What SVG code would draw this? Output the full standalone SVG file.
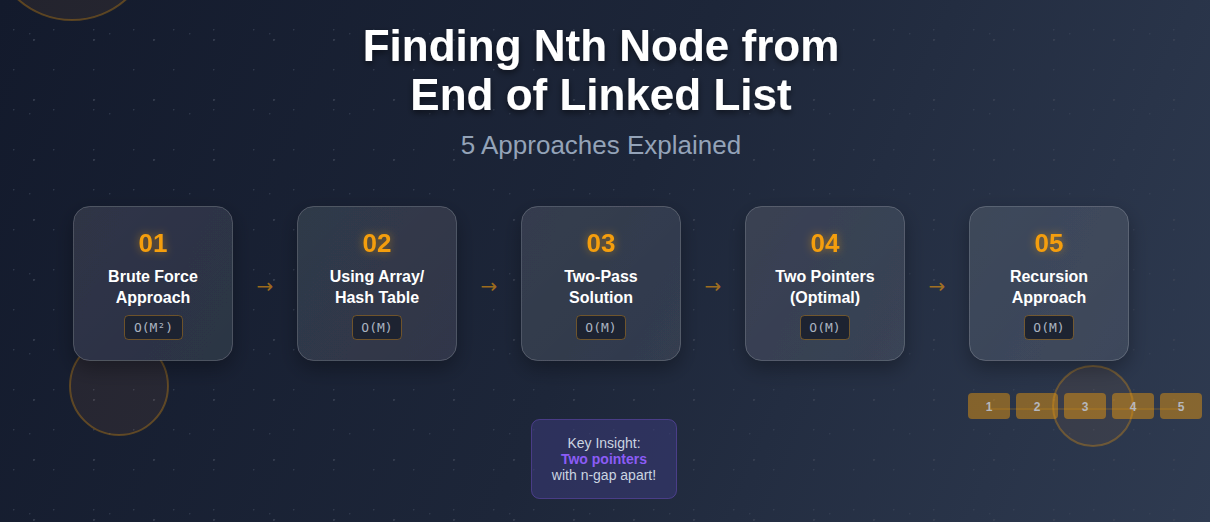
<svg xmlns="http://www.w3.org/2000/svg" width="1210" height="522" viewBox="0 0 1210 522">
<defs>
<linearGradient id="bg" gradientUnits="userSpaceOnUse" x1="0" y1="0" x2="1210" y2="522">
<stop offset="0" stop-color="#131a2c"/>
<stop offset="0.5" stop-color="#1d2639"/>
<stop offset="1" stop-color="#2f3b51"/>
</linearGradient>
<linearGradient id="card" x1="0" y1="0" x2="1" y2="1">
<stop offset="0" stop-color="#ffffff" stop-opacity="0.11"/>
<stop offset="1" stop-color="#ffffff" stop-opacity="0.09"/>
</linearGradient>
<pattern id="p1" x="13" y="29" width="40" height="40" patternUnits="userSpaceOnUse">
<circle cx="0.5" cy="0.5" r="1" fill="#3a4458" opacity="0.7"/>
</pattern>
<pattern id="p2" x="33" y="39" width="60" height="60" patternUnits="userSpaceOnUse">
<circle cx="0.5" cy="0.5" r="1.6" fill="#3b4254" opacity="0.8"/>
</pattern>
<pattern id="p3" x="29" y="33" width="80" height="80" patternUnits="userSpaceOnUse">
<circle cx="0.5" cy="0.5" r="1" fill="#3a4458" opacity="0.6"/>
</pattern>
<filter id="shadow" x="-30%" y="-30%" width="160%" height="160%">
<feDropShadow dx="0" dy="8" stdDeviation="10" flood-color="#000" flood-opacity="0.3"/>
</filter>
<filter id="tshadow" x="-10%" y="-30%" width="120%" height="160%">
<feDropShadow dx="0" dy="3" stdDeviation="3" flood-color="#000" flood-opacity="0.5"/>
</filter>
<filter id="glow" x="-50%" y="-50%" width="200%" height="200%">
<feDropShadow dx="0" dy="0" stdDeviation="4" flood-color="#f59e0b" flood-opacity="0.5"/>
</filter>
<style>
.base{fill:url(#bg)}
.card{fill:url(#card);stroke:#ffffff;stroke-opacity:0.2;stroke-width:1}
.num{font-family:"Liberation Sans",Arial,sans-serif;font-size:26px;font-weight:bold;fill:#f59e0b;text-anchor:middle}
.ttl{font-family:"Liberation Sans",Arial,sans-serif;font-size:16px;font-weight:bold;fill:#ffffff;text-anchor:middle}
.badge{fill:#1d2331;stroke:#f59e0b;stroke-opacity:0.35;stroke-width:1}
.cx{font-family:"DejaVu Sans Mono","Liberation Mono",monospace;font-size:13px;fill:#aab3c0;text-anchor:middle}
.arr{font-family:"DejaVu Sans","Liberation Sans",sans-serif;font-size:20px;fill:#f59e0b;fill-opacity:0.6;text-anchor:middle}
.deco{fill:#ffa040;fill-opacity:0.07;stroke:#f59e0b;stroke-opacity:0.3;stroke-width:2}
.ll{fill:#f59e0b;fill-opacity:0.45}
.llt{font-family:"Liberation Sans",Arial,sans-serif;font-size:12px;font-weight:bold;fill:#b5b7bd;text-anchor:middle}
</style>
</defs>
<rect width="1210" height="522" fill="url(#bg)"/>
<rect width="1210" height="522" fill="url(#p1)"/>
<rect width="1210" height="522" fill="url(#p2)"/>
<rect width="1210" height="522" fill="url(#p3)"/>

<g id="decor">
<circle class="deco" cx="72" cy="-61" r="81"/>
<circle class="deco" cx="119" cy="386" r="49"/>
<circle class="deco" cx="1093" cy="406" r="40" stroke-width="1.5"/>
</g>

<g id="title">
<text x="601" y="61" font-family="Liberation Sans,Arial,sans-serif" font-size="44" font-weight="bold" fill="#ffffff" text-anchor="middle" filter="url(#tshadow)">Finding Nth Node from</text>
<text x="601" y="110" font-family="Liberation Sans,Arial,sans-serif" font-size="44" font-weight="bold" fill="#ffffff" text-anchor="middle" filter="url(#tshadow)">End of Linked List</text>
<text x="601" y="154" font-family="Liberation Sans,Arial,sans-serif" font-size="26" fill="#94a3b8" text-anchor="middle">5 Approaches Explained</text>
</g>

<g id="connectors">
<text class="arr" x="265" y="293">→</text>
<text class="arr" x="489" y="293">→</text>
<text class="arr" x="713" y="293">→</text>
<text class="arr" x="937" y="293">→</text>
</g>

<g id="node1">
<rect class="base" x="73.500" y="206.500" width="159" height="154" rx="16" filter="url(#shadow)"/>
<rect class="card" x="73.500" y="206.500" width="159" height="154" rx="16"/>
<text class="num" x="153" y="252" filter="url(#glow)">01</text>
<text class="ttl" x="153" y="282">Brute Force</text>
<text class="ttl" x="153" y="303">Approach</text>
<rect class="badge" x="124.500" y="315.500" width="58" height="24" rx="4"/>
<text class="cx" x="153.500" y="332">O(M²)</text>
</g>
<g id="node2">
<rect class="base" x="297.500" y="206.500" width="159" height="154" rx="16" filter="url(#shadow)"/>
<rect class="card" x="297.500" y="206.500" width="159" height="154" rx="16"/>
<text class="num" x="377" y="252" filter="url(#glow)">02</text>
<text class="ttl" x="377" y="282">Using Array/</text>
<text class="ttl" x="377" y="303">Hash Table</text>
<rect class="badge" x="352.500" y="315.500" width="49" height="24" rx="4"/>
<text class="cx" x="377" y="332">O(M)</text>
</g>
<g id="node3">
<rect class="base" x="521.500" y="206.500" width="159" height="154" rx="16" filter="url(#shadow)"/>
<rect class="card" x="521.500" y="206.500" width="159" height="154" rx="16"/>
<text class="num" x="601" y="252" filter="url(#glow)">03</text>
<text class="ttl" x="601" y="282">Two-Pass</text>
<text class="ttl" x="601" y="303">Solution</text>
<rect class="badge" x="576.500" y="315.500" width="49" height="24" rx="4"/>
<text class="cx" x="601" y="332">O(M)</text>
</g>
<g id="node4">
<rect class="base" x="745.500" y="206.500" width="159" height="154" rx="16" filter="url(#shadow)"/>
<rect class="card" x="745.500" y="206.500" width="159" height="154" rx="16"/>
<text class="num" x="825" y="252" filter="url(#glow)">04</text>
<text class="ttl" x="825" y="282">Two Pointers</text>
<text class="ttl" x="825" y="303">(Optimal)</text>
<rect class="badge" x="800.500" y="315.500" width="49" height="24" rx="4"/>
<text class="cx" x="825" y="332">O(M)</text>
</g>
<g id="node5">
<rect class="base" x="969.500" y="206.500" width="159" height="154" rx="16" filter="url(#shadow)"/>
<rect class="card" x="969.500" y="206.500" width="159" height="154" rx="16"/>
<text class="num" x="1049" y="252" filter="url(#glow)">05</text>
<text class="ttl" x="1049" y="282">Recursion</text>
<text class="ttl" x="1049" y="303">Approach</text>
<rect class="badge" x="1024.500" y="315.500" width="49" height="24" rx="4"/>
<text class="cx" x="1049" y="332">O(M)</text>
</g>

<g id="linked-list">
<line x1="989" y1="409" x2="1181" y2="409" stroke="#f59e0b" stroke-opacity="0.3" stroke-width="1"/>
<rect class="ll" x="968" y="393" width="42" height="26" rx="4"/>
<rect class="ll" x="1016" y="393" width="42" height="26" rx="4"/>
<rect class="ll" x="1064" y="393" width="42" height="26" rx="4"/>
<rect class="ll" x="1112" y="393" width="42" height="26" rx="4"/>
<rect class="ll" x="1160" y="393" width="42" height="26" rx="4"/>
<text class="llt" x="989" y="411">1</text>
<text class="llt" x="1037" y="411">2</text>
<text class="llt" x="1085" y="411">3</text>
<text class="llt" x="1133" y="411">4</text>
<text class="llt" x="1181" y="411">5</text>
</g>

<g id="insight">
<rect x="531.500" y="419.500" width="145" height="79" rx="8" fill="#3b3a78" fill-opacity="0.55" stroke="#8b5cf6" stroke-opacity="0.35"/>
<text x="604" y="448" font-family="Liberation Sans,Arial,sans-serif" font-size="14" fill="#cbd5e1" text-anchor="middle">Key Insight:</text>
<text x="604" y="464" font-family="Liberation Sans,Arial,sans-serif" font-size="14" font-weight="bold" fill="#8b5cf6" text-anchor="middle">Two pointers</text>
<text x="604" y="480" font-family="Liberation Sans,Arial,sans-serif" font-size="14" fill="#cbd5e1" text-anchor="middle">with n-gap apart!</text>
</g>
</svg>
